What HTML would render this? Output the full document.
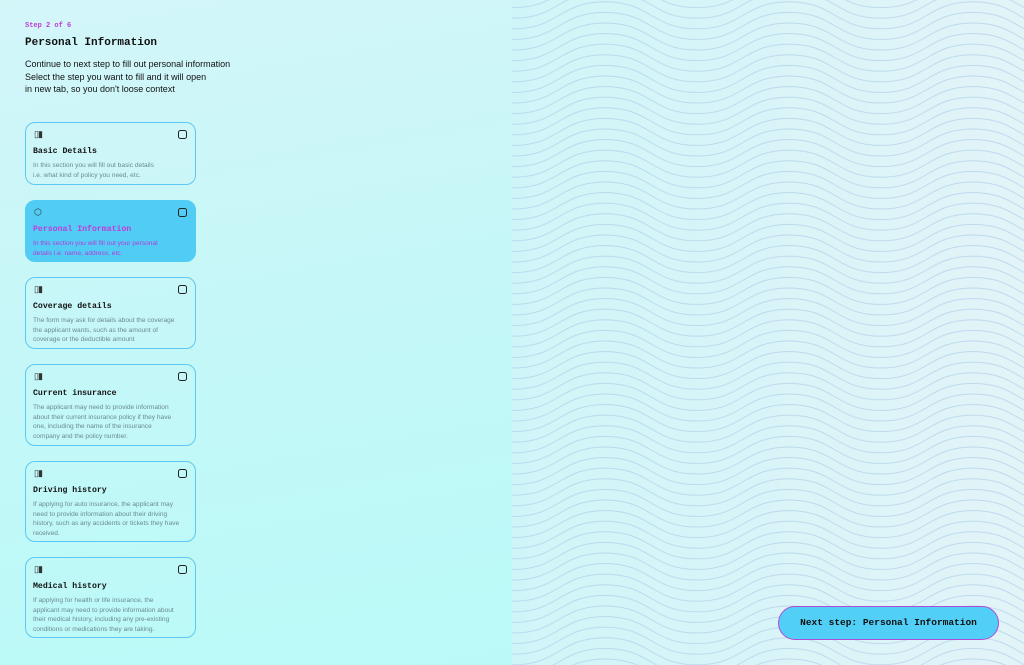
<!DOCTYPE html>
<html><head><meta charset="utf-8"><style>
*{margin:0;padding:0;box-sizing:border-box}
html,body{width:1024px;height:665px;overflow:hidden}
body{position:relative;font-family:"Liberation Sans",sans-serif;background:linear-gradient(170deg,#d3f6f9 0%,#c6f7f8 40%,#b6fbf8 100%)}
.right{position:absolute;left:512px;top:0;width:512px;height:665px;overflow:hidden;background:linear-gradient(90deg,#d0f5f8,#e2f4f8)}
.right svg{display:block}
.mono{font-family:"Liberation Mono",monospace}
.card{position:absolute;left:25px;width:171px;border:1px solid #5fc8f2;border-radius:10px;padding:0 7px}
.card .ic{position:absolute;left:8px;top:6px;font-size:9px;color:#333;letter-spacing:-1px}
.card .cb{position:absolute;right:8px;top:7px;width:9px;height:9px;border:1.3px solid #222;border-radius:2.5px}
.card h3{position:absolute;left:7px;top:24px;font-family:"Liberation Mono",monospace;font-size:8.2px;font-weight:bold;color:#111}
.card p{position:absolute;left:7px;top:38px;font-size:6.6px;line-height:9.5px;color:#6a8a92;width:168px;white-space:nowrap}
</style></head><body>
<div class="right"><svg width="512" height="665" viewBox="0 0 512 665">
<defs>
<path id="wv" d="M-91 0 C-45 0 -45 27 1 27 S47 0 93 0 S139 27 185 27 S231 0 277 0" fill="none" stroke="#a9c8e6" stroke-width="0.9" stroke-opacity="0.65"/>
<pattern id="pw" width="184" height="10.6" patternUnits="userSpaceOnUse" x="0" y="1.8">
<use href="#wv" y="-31.8"/><use href="#wv" y="-21.2"/><use href="#wv" y="-10.6"/><use href="#wv" y="0"/><use href="#wv" y="10.6"/>
</pattern>
</defs>
<rect x="0" y="0" width="512" height="665" fill="url(#pw)"/>
</svg></div>

<div class="mono" style="position:absolute;left:25px;top:22px;font-size:7px;font-weight:bold;color:#c03bd8">Step 2 of 6</div>
<div class="mono" style="position:absolute;left:25px;top:37px;font-size:11px;font-weight:bold;color:#111">Personal Information</div>
<div style="position:absolute;left:25px;top:58px;font-size:9px;line-height:12.5px;color:#111;white-space:nowrap">Continue to next step to fill out personal information<br>Select the step you want to fill and it will open<br>in new tab, so you don't loose context</div>

<div class="card" style="top:122px;height:63px"><span class="ic">▯▮</span><span class="cb"></span><h3>Basic Details</h3><p>In this section you will fill out basic details<br>i.e. what kind of policy you need, etc.</p></div>
<div class="card" style="top:200px;height:62px;background:#51cdf5;border-color:#51cdf5"><span class="ic">⬡</span><span class="cb"></span><h3 style="color:#c03bd8">Personal Information</h3><p style="color:#b23ad6">In this section you will fill out your personal<br>details i.e. name, address, etc.</p></div>
<div class="card" style="top:277px;height:72px"><span class="ic">▯▮</span><span class="cb"></span><h3>Coverage details</h3><p>The form may ask for details about the coverage<br>the applicant wants, such as the amount of<br>coverage or the deductible amount</p></div>
<div class="card" style="top:364px;height:82px"><span class="ic">▯▮</span><span class="cb"></span><h3>Current insurance</h3><p>The applicant may need to provide information<br>about their current insurance policy if they have<br>one, including the name of the insurance<br>company and the policy number.</p></div>
<div class="card" style="top:461px;height:81px"><span class="ic">▯▮</span><span class="cb"></span><h3>Driving history</h3><p>If applying for auto insurance, the applicant may<br>need to provide information about their driving<br>history, such as any accidents or tickets they have<br>received.</p></div>
<div class="card" style="top:557px;height:81px"><span class="ic">▯▮</span><span class="cb"></span><h3>Medical history</h3><p>If applying for health or life insurance, the<br>applicant may need to provide information about<br>their medical history, including any pre-existing<br>conditions or medications they are taking.</p></div>

<div class="mono" style="position:absolute;left:778px;top:606px;width:221px;height:34px;border-radius:17px;background:#52cff7;border:1.5px solid #b04bd6;font-size:9.5px;font-weight:bold;color:#111;text-align:center;line-height:31px">Next step: Personal Information</div>
</body></html>
